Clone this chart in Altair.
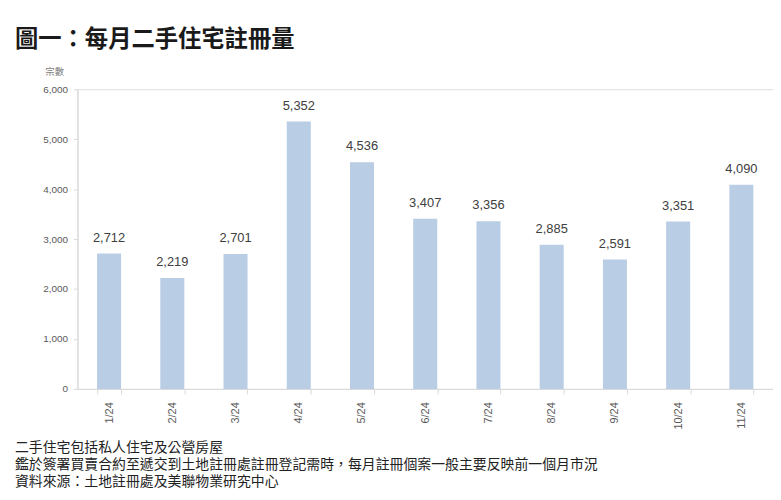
import altair as alt
import pandas as pd

months = ["1/24", "2/24", "3/24", "4/24", "5/24", "6/24", "7/24", "8/24", "9/24", "10/24", "11/24"]
counts = [2712, 2219, 2701, 5352, 4536, 3407, 3356, 2885, 2591, 3351, 4090]
notes = [
    "二手住宅包括私人住宅及公營房屋",
    "鑑於簽署買賣合約至遞交到土地註冊處註冊登記需時，每月註冊個案一般主要反映前一個月市況",
    "資料來源：土地註冊處及美聯物業研究中心",
]

df = pd.DataFrame({"month": months, "count": counts})
notes_df = pd.DataFrame({"note": notes, "i": list(range(len(notes)))})

CJK = "Noto Sans CJK TC"

x = alt.X("month:N", sort=months, title=None,
          scale=alt.Scale(paddingInner=0.62, paddingOuter=0.31),
          axis=alt.Axis(labelAngle=-90, labelFontSize=11, labelColor="#595959",
                        labelFont="Liberation Sans", domainColor="#d9d9d9",
                        tickColor="#d9d9d9", tickBand="extent", tickSize=5,
                        labelPadding=8))
y = alt.Y("count:Q", title="宗數",
          scale=alt.Scale(domain=[0, 6000]),
          axis=alt.Axis(values=[0, 1000, 2000, 3000, 4000, 5000, 6000], format=",.0f",
                        grid=False, labelFontSize=10, labelColor="#595959",
                        labelFont="Liberation Sans", domainColor="#d9d9d9",
                        tickColor="#d9d9d9", tickSize=4, labelPadding=6,
                        titleAngle=0, titleAlign="right", titleBaseline="middle",
                        titleX=-14, titleY=-18, titleFont=CJK, titleFontSize=9.5,
                        titleFontWeight="normal", titleColor="#7f7f7f"))

bars = alt.Chart(df).mark_bar(color="#b9cde5").encode(x=x, y=y)
labels = alt.Chart(df).mark_text(dy=-16, fontSize=13, color="#404040",
                                 font="Liberation Sans").encode(
    x=alt.X("month:N", sort=months),
    y=alt.Y("count:Q", axis=None, scale=alt.Scale(domain=[0, 6000])),
    text=alt.Text("count:Q", format=",.0f"))

foot = alt.Chart(notes_df).mark_text(align="left", baseline="middle", fontSize=14,
                                     font=CJK, color="#222222").encode(
    x=alt.value(-63),
    y=alt.Y("i:Q", axis=None, scale=alt.Scale(domain=[0, 2], range=[362, 396])),
    text="note:N")

chart = alt.layer(bars, labels, foot).resolve_scale(y="independent").properties(
    width=701, height=302,
    autosize=alt.AutoSizeParams(type="none"),
    padding={"left": 70, "top": 80, "right": 0, "bottom": 100},
    title=alt.TitleParams("圖一：每月二手住宅註冊量", anchor="start", frame="group",
                          dx=-63, offset=15,
                          font=CJK, fontSize=23.5, fontWeight="bold", color="#1a1a1a"),
).configure_view(stroke=None).configure(background="white")

chart.save("out.html", embed_options={"renderer": "svg", "actions": False})
